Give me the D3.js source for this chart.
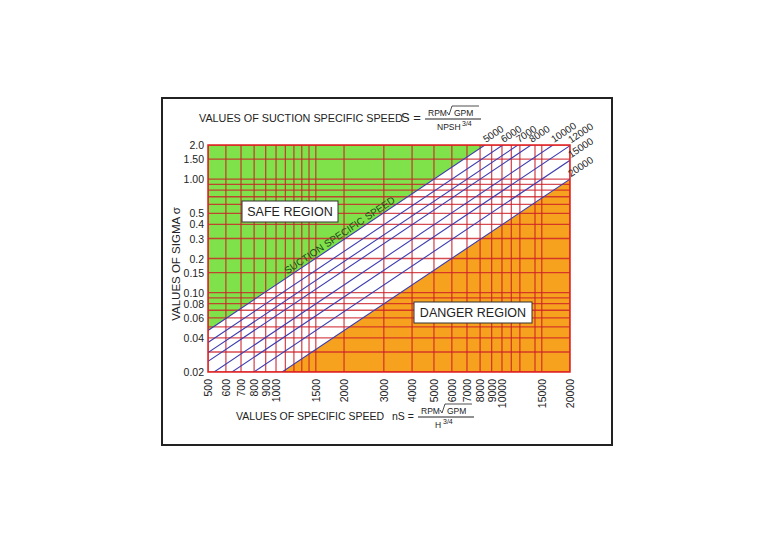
<!DOCTYPE html>
<html><head><meta charset="utf-8">
<script src="https://cdn.jsdelivr.net/npm/d3@7"></script>
<style>body{margin:0;background:#fff}text{font-family:Arial,"Liberation Sans",sans-serif}</style>
</head><body>
<svg id="c" width="768" height="543"></svg>
<script>
// specific speed ticks and extra grid positions
var nsTicks = [500,600,700,800,900,1000,1500,2000,3000,4000,5000,6000,7000,8000,9000,10000,15000,20000];
var nsGrid = [500,600,700,800,900,1000,1100,1200,1300,1400,1500,2000,3000,4000,5000,6000,7000,8000,9000,10000,11000,12000,14000,15000,20000];
var sigmaTicks = [2.0,1.5,1.0,0.5,0.4,0.3,0.2,0.15,0.10,0.08,0.06,0.04,0.02];
var sigmaLabels = ["2.0","1.50","1.00","0.5","0.4","0.3","0.2","0.15","0.10","0.08","0.06","0.04","0.02"];
var sigmaGrid = [2,1.5,1,0.9,0.8,0.7,0.6,0.5,0.4,0.3,0.2,0.15,0.1,0.09,0.08,0.07,0.06,0.05,0.04,0.03,0.02];
// suction specific speed lines
var sLines = [5000,6000,7000,8000,10000,12000,15000,20000];

var svg = d3.select("#c");
var x = d3.scaleLog().domain([500,20000]).range([208,570]);
var y = d3.scaleLog().domain([0.02,2]).range([372,145]);
var sigma = function(ns, s) { return Math.pow(ns / s, 4 / 3); };
var nsAt = function(sg, s) { return s * Math.pow(sg, 0.75); };
var pline = d3.line().x(function(d){return x(d[0]);}).y(function(d){return y(d[1]);});

svg.append("rect").attr("x",162).attr("y",98).attr("width",450).attr("height",347)
	.attr("fill","#fff").attr("stroke","#222").attr("stroke-width",2);

svg.append("defs").append("clipPath").attr("id","pc")
	.append("rect").attr("x",208).attr("y",145).attr("width",362).attr("height",227);
var g = svg.append("g").attr("clip-path","url(#pc)");

g.append("rect").attr("x",208).attr("y",145).attr("width",362).attr("height",227).attr("fill","#fff");

// green above the 5000 line, orange below the 20000 line
var lo = sLines[0], hi = sLines[sLines.length - 1];
g.append("path").attr("fill","#7fe24a").attr("d", pline([[500,2],[500,sigma(500,lo)],[nsAt(2,lo),2]]));
g.append("path").attr("fill","#f7a21e").attr("d", pline([[nsAt(0.02,hi),0.02],[20000,sigma(20000,hi)],[20000,0.02]]));

// grid
g.selectAll(".vg").data(nsGrid).enter().append("line")
	.attr("x1",function(d){return x(d);}).attr("x2",function(d){return x(d);})
	.attr("y1",145).attr("y2",372).attr("stroke","#cc1f28").attr("stroke-opacity",0.8).attr("stroke-width",1.3);
g.selectAll(".hg").data(sigmaGrid).enter().append("line")
	.attr("y1",function(d){return y(d);}).attr("y2",function(d){return y(d);})
	.attr("x1",208).attr("x2",570).attr("stroke","#cc1f28").attr("stroke-opacity",0.8).attr("stroke-width",1.3);

// S lines
g.selectAll(".sl").data(sLines).enter().append("line")
	.attr("x1",x(500)).attr("y1",function(d){return y(sigma(500,d));})
	.attr("x2",x(20000)).attr("y2",function(d){return y(sigma(20000,d));})
	.attr("stroke","#3b3bb0").attr("stroke-width",1.1);

svg.append("rect").attr("x",208).attr("y",145).attr("width",362).attr("height",227)
	.attr("fill","none").attr("stroke","#e02020").attr("stroke-width",1.5);

// S labels
var slope = (y(sigma(1000,5000)) - y(sigma(10000,5000))) / (x(10000) - x(1000));
var deg = -Math.atan(slope) * 180 / Math.PI;
sLines.forEach(function(s) {
	var px, py;
	if (nsAt(2, s) <= 20000) { px = x(nsAt(2, s)); py = 145; }
	else { px = 570; py = y(sigma(20000, s)); }
	svg.append("text").attr("transform","translate(" + (px + 1) + "," + (py - 2) + ") rotate(" + deg + ")")
		.attr("font-size",10).attr("fill","#222").text(s);
});

// axis labels
svg.selectAll(".yl").data(sigmaTicks).enter().append("text")
	.attr("x",204).attr("y",function(d){return y(d) + 4;}).attr("text-anchor","end")
	.attr("font-size",10.5).attr("fill","#222").text(function(d,i){return sigmaLabels[i];});
svg.selectAll(".xl").data(nsTicks).enter().append("text")
	.attr("transform",function(d){return "translate(" + (x(d) + 4) + ",379) rotate(-90)";})
	.attr("text-anchor","end").attr("font-size",10.5).attr("fill","#222").text(function(d){return d;});

svg.append("text").attr("transform","translate(180,264) rotate(-90)").attr("text-anchor","middle")
	.attr("font-size",11.5).attr("fill","#222").text("VALUES OF SIGMA  σ");

// region boxes
function box(x0, y0, w, h, t) {
	svg.append("rect").attr("x",x0).attr("y",y0).attr("width",w).attr("height",h)
		.attr("fill","#fff").attr("stroke","#333").attr("stroke-width",1);
	svg.append("text").attr("x",x0 + w / 2).attr("y",y0 + h / 2 + 4.5).attr("text-anchor","middle")
		.attr("font-size",12.5).attr("fill","#222").text(t);
}
box(242,201,96,21,"SAFE REGION");
box(414,302,118,21,"DANGER REGION");

svg.append("text").attr("transform","translate(" + x(1950) + "," + (y(sigma(1950,5000)) - 3) + ") rotate(" + deg + ")")
	.attr("text-anchor","middle").attr("font-size",10).attr("fill","#1d4a1d").text("SUCTION SPECIFIC SPEED");

// formulas
function formula(x0, yb, label, fs, sym, den) {
	svg.append("text").attr("x",x0).attr("y",yb).attr("font-size",fs).attr("fill","#222").text(label);
	svg.append("text").attr("x",sym.x).attr("y",yb).attr("font-size",sym.fs).attr("fill","#222").text(sym.t);
	var fx = sym.fx;
	svg.append("line").attr("x1",fx).attr("x2",fx + 56).attr("y1",yb - 3).attr("y2",yb - 3).attr("stroke","#222");
	svg.append("text").attr("x",fx + 3).attr("y",yb - 6).attr("font-size",8.5).attr("fill","#222").text("RPM");
	svg.append("path").attr("d","M" + (fx + 22) + "," + (yb - 10) + " l2,3 l3,-9 h27")
		.attr("fill","none").attr("stroke","#222").attr("stroke-width",0.8);
	svg.append("text").attr("x",fx + 29).attr("y",yb - 6).attr("font-size",8.5).attr("fill","#222").text("GPM");
	svg.append("text").attr("x",den.x).attr("y",yb + 8).attr("font-size",8.5).attr("fill","#222").text(den.t);
	svg.append("text").attr("x",den.x + den.w).attr("y",yb + 4).attr("font-size",7).attr("fill","#222").text("3/4");
}
formula(199, 122, "VALUES OF SUCTION SPECIFIC SPEED", 10.8, {t:"S =", x:401, fs:13, fx:425}, {t:"NPSH", x:437, w:25});
formula(236, 420, "VALUES OF SPECIFIC SPEED", 10.5, {t:"nS =", x:392, fs:10.5, fx:418}, {t:"H", x:435, w:8});
</script>
</body></html>
